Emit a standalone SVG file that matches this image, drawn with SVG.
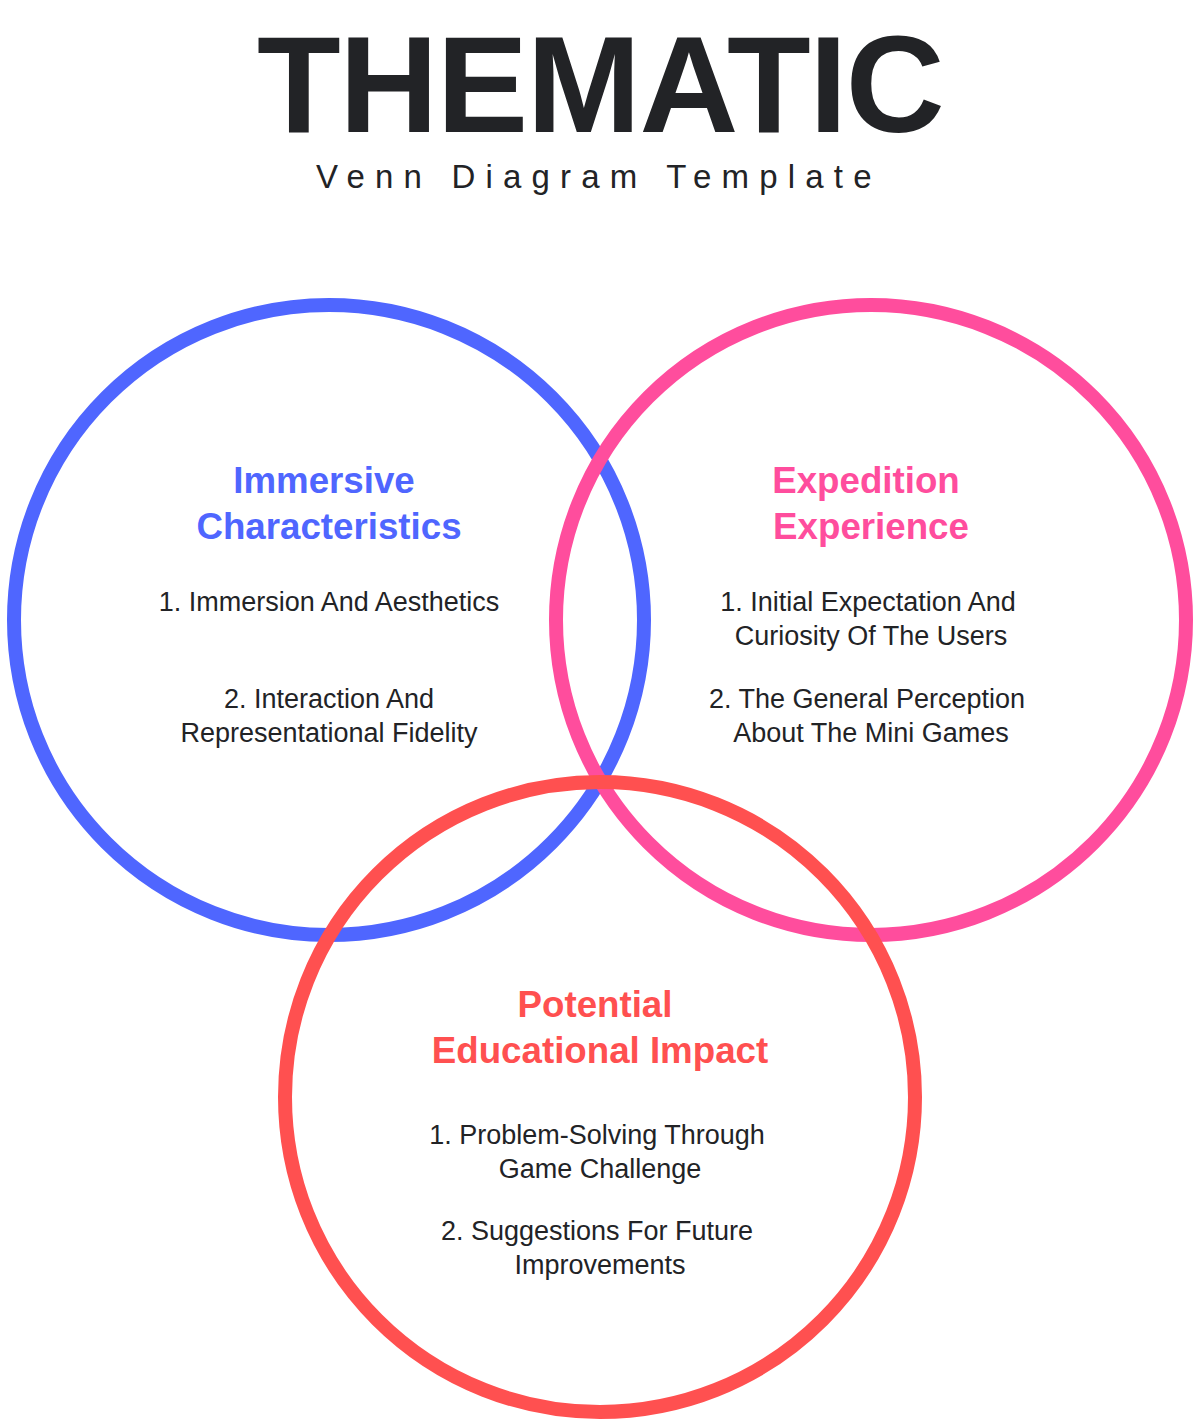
<svg xmlns="http://www.w3.org/2000/svg" width="1200" height="1425" viewBox="0 0 1200 1425">
<style>
.ring{fill:none;stroke-width:14}
.h{font-family:"Liberation Sans",Arial,sans-serif;font-weight:bold;font-size:36.7px;text-anchor:middle}
.b{font-family:"Liberation Sans",Arial,sans-serif;font-size:27px;fill:#222326;text-anchor:middle}
</style>
<rect width="1200" height="1425" fill="#ffffff"/>
<g id="title">
<text x="257" y="132" font-family="'Liberation Sans',Arial,sans-serif" font-weight="bold" font-size="137" letter-spacing="-1.4" fill="#222326">THEMATIC</text>
<text x="316" y="188" font-family="'Liberation Sans',Arial,sans-serif" font-size="33" letter-spacing="10.2" fill="#222326">Venn Diagram Template</text>
</g>
<g id="immersive">
<circle class="ring" cx="329" cy="620" r="315" stroke="#4F66FF"/>
<text class="h" x="324" y="493" fill="#4F66FF">Immersive</text>
<text class="h" x="329" y="539" fill="#4F66FF">Characteristics</text>
<text class="b" x="329" y="611">1. Immersion And Aesthetics</text>
<text class="b" x="329" y="708">2. Interaction And</text>
<text class="b" x="329" y="742">Representational Fidelity</text>
</g>
<g id="expedition">
<circle class="ring" cx="871" cy="620" r="315" stroke="#FF4D9D"/>
<text class="h" x="866" y="493" fill="#FF4D9D">Expedition</text>
<text class="h" x="871" y="539" fill="#FF4D9D">Experience</text>
<text class="b" x="868" y="611">1. Initial Expectation And</text>
<text class="b" x="871" y="645">Curiosity Of The Users</text>
<text class="b" x="867" y="708">2. The General Perception</text>
<text class="b" x="871" y="742">About The Mini Games</text>
</g>
<g id="educational">
<circle class="ring" cx="600" cy="1097" r="315" stroke="#FF5050"/>
<text class="h" x="595" y="1017" fill="#FF5050">Potential</text>
<text class="h" x="600" y="1063" fill="#FF5050">Educational Impact</text>
<text class="b" x="597" y="1144">1. Problem-Solving Through</text>
<text class="b" x="600" y="1178">Game Challenge</text>
<text class="b" x="597" y="1240">2. Suggestions For Future</text>
<text class="b" x="600" y="1274">Improvements</text>
</g>
<g id="connectors"></g>
</svg>
